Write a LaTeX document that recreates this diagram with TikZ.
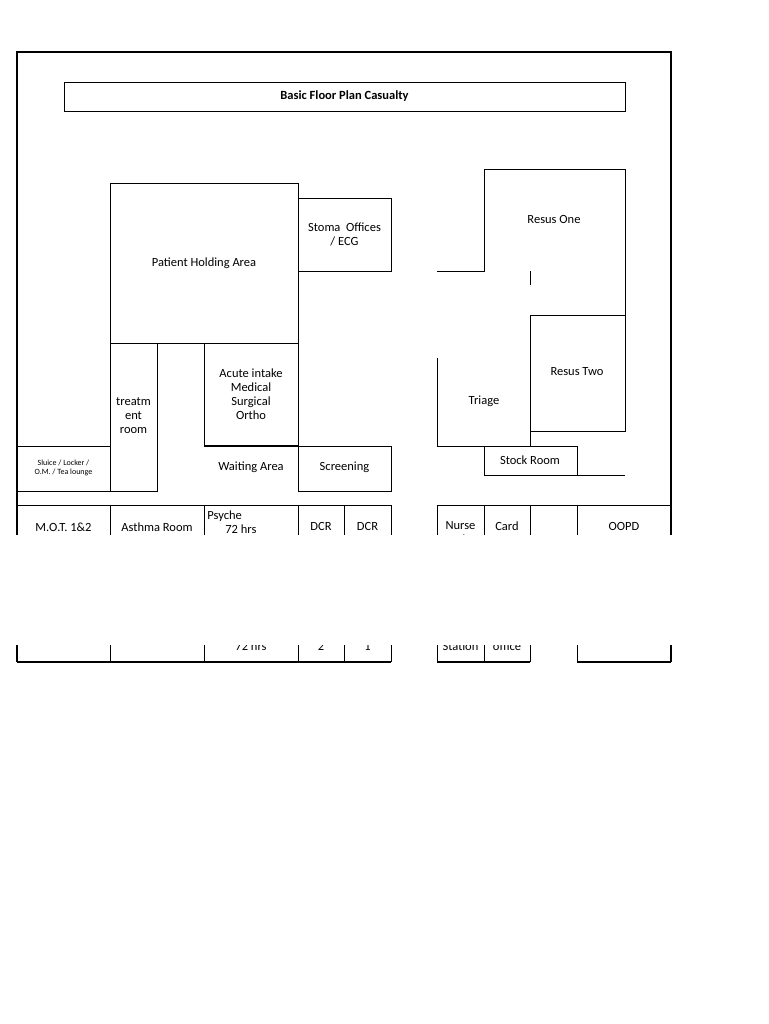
\documentclass[tikz,border=0pt]{standalone}
\usepackage{fontspec}
\setmainfont{Carlito}
\begin{document}
\begin{tikzpicture}[x=1pt,y=-1pt,line width=0.8pt,%
        room/.style={draw},%
        wall/.style={line width=2pt},%
        lbl/.style={font=\fontsize{12.5}{14}\selectfont, align=center, inner sep=1pt}]
\useasboundingbox (0,0) rectangle (768,1024);
% outer walls
\draw[wall] (17,662) -- (17,52) -- (671,52) -- (671,662);
\draw[wall] (17,662) -- (391,662) (437,662) -- (530,662) (577,662) -- (671,662);
% title
\draw (64,82) rectangle (625,111);
\node[lbl,font=\fontsize{12.5}{14}\selectfont\bfseries] (title) at (344.5,96) {Basic Floor Plan Casualty};
% left wing
\draw (110,183) rectangle (298,343);
\draw (298,198) rectangle (391,271);
\draw (110,343) rectangle (157,491);
\draw (204,446) -- (204,343) -- (298,343) -- (298,491);
\draw[line width=1.6pt] (204,446) -- (298,446);
\draw (17,446) rectangle (110,491);
\draw (298,446) rectangle (391,491);
\node[lbl] (hold) at (204,263) {Patient Holding Area};
\node[lbl] (stoma) at (344.5,234) {Stoma~ Offices\\/ ECG};
\node[lbl] (treat) at (133.5,416) {treatm\\ent\\room};
\node[lbl] (acute) at (251,394) {Acute intake\\Medical\\Surgical\\Ortho};
\node[lbl,font=\fontsize{8}{9.5}\selectfont] (sluice) at (63.5,468) {Sluice / Locker /\\O.M. / Tea lounge};
\node[lbl] (wait) at (251,467) {Waiting Area};
\node[lbl] (screen) at (344.5,467) {Screening};
% bottom row left
\draw (17,505) -- (391,505);
\foreach \x in {110,204,298,344,391} \draw (\x,505) -- (\x,662);
\node[lbl] (mot) at (63.5,527) {M.O.T. 1\&2};
\node[lbl] (asthma) at (157,527) {Asthma Room};
\node[lbl,anchor=north west,align=left] (psyche) at (206,509) {Psyche\\\hspace{18pt}72 hrs};
\node[lbl] (dcrb) at (321,533) {DCR\\2};
\node[lbl] (dcra) at (367.5,533) {DCR\\1};
% right wing
\draw (437,271) -- (484,271) -- (484,169) -- (625,169) -- (625,431);
\draw (530,271) -- (530,285);
\draw (530,315) rectangle (625,431);
\draw (437,358) -- (437,446) -- (530,446) -- (530,431);
\draw (484,446) rectangle (577,475);
\draw (577,475) -- (625,475);
\node[lbl] (resa) at (554,219) {Resus One};
\node[lbl] (resb) at (577,372) {Resus Two};
\node[lbl] (triage) at (484,401) {Triage};
\node[lbl] (stock) at (530,460) {Stock Room};
% bottom row right
\draw (437,505) -- (671,505);
\foreach \x in {437,484,530,577} \draw (\x,505) -- (\x,662);
\node[lbl] (nurse) at (460.5,533) {Nurse\\Station};
\node[lbl] (card) at (507,533) {Card\\office};
\node[lbl] (oopd) at (624,526) {OOPD};
% lower copies of row texts
\node[lbl] (psycheb) at (251,646) {72 hrs};
\node[lbl] (dcrbb) at (321,646) {2};
\node[lbl] (dcrab) at (367.5,646) {1};
\node[lbl] (nurseb) at (460.5,646) {Station};
\node[lbl] (cardb) at (507,646) {office};
% blank band
\fill[white] (0,535) rectangle (768,645);
\end{tikzpicture}
\end{document}
